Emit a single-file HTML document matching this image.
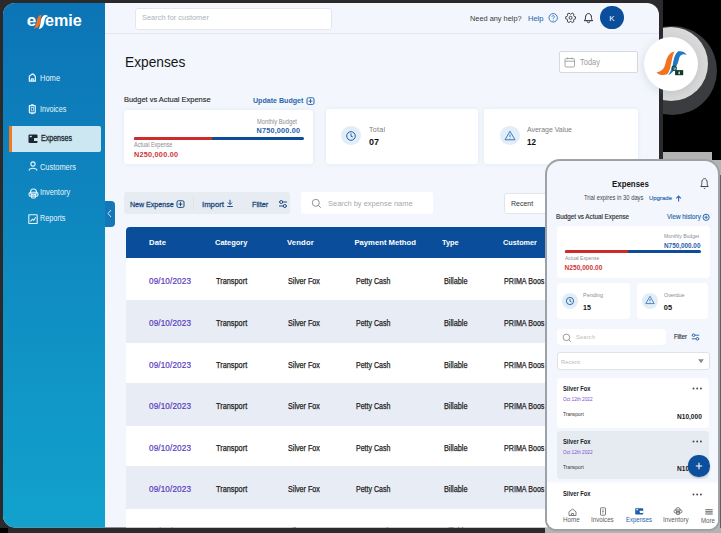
<!DOCTYPE html>
<html><head><meta charset="utf-8"><style>
html,body{margin:0;padding:0;}
body{width:721px;height:533px;overflow:hidden;position:relative;background:#000;font-family:"Liberation Sans",sans-serif;}
div{position:absolute;}
</style></head><body>
<div style="left:627.5px;top:26px;width:89px;height:89px;border-radius:50%;background:#3a3c40;"></div>
<div style="left:634px;top:27px;width:74px;height:74px;border-radius:50%;background:#d9d9d9;"></div>
<div style="left:0px;top:0px;width:663px;height:533px;background:#2a2a2c;"></div>
<div style="left:0px;top:528px;width:8px;height:5px;background:#000;"></div>
<div style="left:0;top:0;width:659px;height:528px;clip-path:inset(3px 0 0.5px 3px round 12px);background:#f3f7fd;overflow:hidden;">
<div style="left:0;top:0;width:105px;height:528px;background:linear-gradient(180deg,#0c74b6 0%,#12a2cd 100%);"></div>
<div style="left:105px;top:33px;width:556px;height:1px;background:#e1e7ef;"></div>
<div style="top:12.41px;left:26.80px;font-size:17.03px;line-height:17.03px;color:#fff;font-weight:bold;letter-spacing:0.000px;white-space:pre;">e</div>
<svg style="position:absolute;left:30px;top:13px;" width="20" height="18" viewBox="0 0 20 18"><path d="M11.5 1.6 C9 2.2 7.5 4.5 6.8 8 C6.2 11.5 5.5 14 3.6 15.5 C7 15.6 9 14 9.9 11 C10.6 8.5 10.6 4 11.5 1.6 Z" fill="#f3721f"/><path d="M14.8 2 C12.5 2.8 11.3 5 10.8 8 C10.3 11.5 10 14 8.6 16.2 C11.8 15.6 13.5 13.5 14.2 10 C14.7 7 14.8 4.8 16.2 3.9 C17 3.4 17.9 3.4 18.6 3.7 C17.5 2.2 16.2 1.6 14.8 2 Z" fill="#fff"/></svg>
<div style="top:12.41px;left:44.80px;font-size:17.03px;line-height:17.03px;color:#fff;font-weight:bold;letter-spacing:0.000px;white-space:pre;transform:scaleX(0.9480);transform-origin:0 0;">emie</div>
<div style="top:75.11px;left:39.70px;font-size:8.14px;line-height:8.14px;color:#e8f4fb;font-weight:normal;letter-spacing:0.000px;white-space:pre;transform:scaleX(0.9256);transform-origin:0 0;">Home</div>
<div style="top:106.00px;left:39.70px;font-size:8.14px;line-height:8.14px;color:#e8f4fb;font-weight:normal;letter-spacing:0.000px;white-space:pre;transform:scaleX(0.8809);transform-origin:0 0;">Invoices</div>
<div style="left:9.4px;top:126.2px;width:91.3px;height:25.4px;background:#cde7f2;border-radius:2px;"></div>
<div style="left:9.4px;top:126.2px;width:2.6px;height:25.4px;background:#f07a1c;"></div>
<div style="top:135.11px;left:40.80px;font-size:8.14px;line-height:8.14px;color:#1b2730;font-weight:normal;letter-spacing:0.000px;white-space:pre;transform:scaleX(0.8700);transform-origin:0 0;-webkit-text-stroke:0.3px #1b2730;">Expenses</div>
<div style="top:163.50px;left:40.40px;font-size:8.14px;line-height:8.14px;color:#e8f4fb;font-weight:normal;letter-spacing:0.000px;white-space:pre;transform:scaleX(0.9148);transform-origin:0 0;">Customers</div>
<div style="top:189.11px;left:39.90px;font-size:8.14px;line-height:8.14px;color:#e8f4fb;font-weight:normal;letter-spacing:0.000px;white-space:pre;transform:scaleX(0.8991);transform-origin:0 0;">Inventory</div>
<div style="top:215.41px;left:40.40px;font-size:8.14px;line-height:8.14px;color:#e8f4fb;font-weight:normal;letter-spacing:0.000px;white-space:pre;transform:scaleX(0.8913);transform-origin:0 0;">Reports</div>
<svg style="position:absolute;left:28px;top:72px;" width="10" height="11" viewBox="0 0 10 11"><path d="M1.35 9.15 V5 Q1.35 4.3 1.9 3.8 L4.35 1.95 Q4.7 1.7 5.05 1.95 L6.8 3.8 Q7.35 4.3 7.35 5 V9.15 Z M3.4 9.15 V6.9 H5.3 V9.15" stroke="#e8f4fb" stroke-width="1.25" fill="none" stroke-linejoin="round"/></svg>
<svg style="position:absolute;left:28px;top:104px;" width="10" height="11" viewBox="0 0 10 11"><rect x="1.35" y="1.7" width="5.9" height="7.1" rx="0.5" stroke="#e8f4fb" stroke-width="1.2" fill="none"/><path d="M3.3 1.6 V0.6 H5.3 V1.6 M3.3 8.9 V9.7 H5.3 V8.9" stroke="#e8f4fb" stroke-width="0.9" fill="none"/><rect x="3.2" y="3.6" width="2.2" height="3.3" stroke="#e8f4fb" stroke-width="0.7" fill="none"/></svg>
<svg style="position:absolute;left:27.5px;top:134px;" width="10" height="10" viewBox="0 0 10 10"><rect x="0.5" y="0.5" width="9" height="8.6" rx="1" fill="#1b2730"/><rect x="6" y="4" width="4" height="3" rx="0.6" fill="#cde7f2"/><rect x="1.8" y="1.8" width="2" height="1.4" fill="#cde7f2"/></svg>
<svg style="position:absolute;left:28px;top:161px;" width="10" height="10" viewBox="0 0 10 10"><circle cx="5" cy="3" r="2.1" stroke="#e8f4fb" stroke-width="1.1" fill="none"/><path d="M1 9.6 C1.5 6.5 8.5 6.5 9 9.6" stroke="#e8f4fb" stroke-width="1.1" fill="none"/></svg>
<svg style="position:absolute;left:27.5px;top:187.5px;" width="11" height="11" viewBox="0 0 11 11"><circle cx="5.5" cy="4" r="3" stroke="#e8f4fb" stroke-width="1.1" fill="none"/><rect x="1" y="4.2" width="9" height="4" rx="2" stroke="#e8f4fb" stroke-width="1.1" fill="none"/><rect x="3.6" y="6" width="3.8" height="4" rx="0.8" stroke="#e8f4fb" stroke-width="1.1" fill="none"/></svg>
<svg style="position:absolute;left:28px;top:214px;" width="10" height="10" viewBox="0 0 10 10"><rect x="0.8" y="0.8" width="8.4" height="8.8" rx="0.6" stroke="#e8f4fb" stroke-width="1.1" fill="none"/><path d="M2.5 7.5 L4.3 5.2 L5.8 6.3 L7.8 3.2" stroke="#e8f4fb" stroke-width="1.1" fill="none"/></svg>
<div style="left:105px;top:200.5px;width:9.5px;height:26.5px;background:#1576b8;border-radius:0 4px 4px 0;"></div>
<svg style="position:absolute;left:105px;top:208px;" width="9" height="11" viewBox="0 0 9 11"><path d="M6 2 L3 5.5 L6 9" stroke="#cfe6f6" stroke-width="1" fill="none"/></svg>
<div style="left:135px;top:7.5px;width:197px;height:22px;background:#fff;border:1px solid #e3e7ec;border-radius:3px;box-sizing:border-box;"></div>
<div style="top:14.31px;left:141.70px;font-size:7.70px;line-height:7.70px;color:#aeb3b8;font-weight:normal;letter-spacing:0.000px;white-space:pre;transform:scaleX(0.9661);transform-origin:0 0;">Search for customer</div>
<div style="top:14.51px;left:470.00px;font-size:7.99px;line-height:7.99px;color:#3a3a3a;font-weight:normal;letter-spacing:0.000px;white-space:pre;transform:scaleX(0.9232);transform-origin:0 0;">Need any help?</div>
<div style="top:14.51px;left:527.50px;font-size:7.99px;line-height:7.99px;color:#2e6db4;font-weight:normal;letter-spacing:0.000px;white-space:pre;transform:scaleX(0.9426);transform-origin:0 0;-webkit-text-stroke:0.1px #2e6db4;">Help</div>
<svg style="position:absolute;left:547px;top:12px;" width="13" height="13" viewBox="0 0 13 13"><circle cx="6.2" cy="5.8" r="4.2" stroke="#3b7bc0" stroke-width="1" fill="none"/><path d="M4.9 4.7 C4.9 3.3 7.5 3.3 7.5 4.7 C7.5 5.7 6.2 5.7 6.2 6.7" stroke="#3b7bc0" stroke-width="0.9" fill="none"/><circle cx="6.2" cy="8" r="0.5" fill="#3b7bc0"/></svg>
<svg style="position:absolute;left:564px;top:12px;" width="13" height="13" viewBox="0 0 13 13"><path d="M9.98 4.29 L11.50 4.81 L11.50 6.79 L9.98 7.31 L9.60 7.97 L9.91 9.55 L8.19 10.54 L6.98 9.48 L6.22 9.48 L5.01 10.54 L3.29 9.55 L3.60 7.97 L3.22 7.31 L1.70 6.79 L1.70 4.81 L3.22 4.29 L3.60 3.63 L3.29 2.05 L5.01 1.06 L6.22 2.12 L6.98 2.12 L8.19 1.06 L9.91 2.05 L9.60 3.63 Z" stroke="#333" stroke-width="0.9" fill="none" stroke-linejoin="round"/><circle cx="6.6" cy="5.8" r="1.5" stroke="#333" stroke-width="0.9" fill="none"/></svg>
<svg style="position:absolute;left:582px;top:12px;" width="13" height="13" viewBox="0 0 13 13"><path d="M2.3 8.7 C3.2 8 3.5 7 3.5 5.5 C3.5 3.2 4.8 1.5 6.5 1.5 C8.2 1.5 9.5 3.2 9.5 5.5 C9.5 7 9.8 8 10.7 8.7 Z" stroke="#222" stroke-width="1" fill="none" stroke-linejoin="round"/><path d="M5.2 9.4 A1.3 1.3 0 0 0 7.8 9.4" stroke="#222" stroke-width="0.9" fill="none"/></svg>
<div style="left:600.3px;top:6.1px;width:23.4px;height:23.4px;border-radius:50%;background:#0b4f9c;"></div>
<div style="top:15.01px;left:609.33px;font-size:7.99px;line-height:7.99px;color:#fff;font-weight:normal;letter-spacing:0.000px;white-space:pre;">K</div>
<div style="top:55.01px;left:124.80px;font-size:14.53px;line-height:14.53px;color:#161616;font-weight:normal;letter-spacing:0.000px;white-space:pre;transform:scaleX(0.9462);transform-origin:0 0;">Expenses</div>
<div style="left:559.3px;top:51.4px;width:78.5px;height:22px;background:#fff;border:1px solid #d6dade;border-radius:2px;box-sizing:border-box;"></div>
<svg style="position:absolute;left:564px;top:57px;" width="12" height="11" viewBox="0 0 12 11"><rect x="1" y="1.5" width="9.5" height="8.5" rx="1.2" stroke="#9a9ea3" stroke-width="0.9" fill="none"/><path d="M1 4.2 H10.5 M3.5 0.5 V2.3 M8 0.5 V2.3" stroke="#9a9ea3" stroke-width="0.9"/></svg>
<div style="top:58.31px;left:580.00px;font-size:8.43px;line-height:8.43px;color:#9a9ea3;font-weight:normal;letter-spacing:0.000px;white-space:pre;transform:scaleX(0.8892);transform-origin:0 0;">Today</div>
<div style="top:96.10px;left:124.00px;font-size:7.99px;line-height:7.99px;color:#2c2c2c;font-weight:normal;letter-spacing:0.000px;white-space:pre;transform:scaleX(0.9334);transform-origin:0 0;-webkit-text-stroke:0.15px #2c2c2c;">Budget vs Actual Expense</div>
<div style="top:96.81px;left:253.30px;font-size:7.27px;line-height:7.27px;color:#2a68aa;font-weight:bold;letter-spacing:0.000px;white-space:pre;transform:scaleX(0.9753);transform-origin:0 0;">Update Budget</div>
<svg style="position:absolute;left:305.5px;top:96.5px;" width="9" height="8" viewBox="0 0 9 8"><rect x="1" y="0.8" width="7" height="6.6" rx="1.3" stroke="#2a68aa" stroke-width="1" fill="none"/><path d="M4.5 2.2 V6 M2.6 4.1 H6.4" stroke="#2a68aa" stroke-width="1"/></svg>
<div style="left:124.2px;top:110px;width:189.3px;height:53.8px;background:#fff;border-radius:3px;box-shadow:0 0 4px rgba(190,205,220,0.35);"></div>
<div style="top:118.90px;left:256.60px;font-size:6.54px;line-height:6.54px;color:#8a8d91;font-weight:normal;letter-spacing:0.000px;white-space:pre;transform:scaleX(0.8801);transform-origin:0 0;">Monthly Budget</div>
<div style="top:127.31px;left:256.60px;font-size:7.27px;line-height:7.27px;color:#1f5ea8;font-weight:bold;letter-spacing:0.178px;white-space:pre;">N750,000.00</div>
<div style="left:134px;top:136.8px;width:170.2px;height:3px;background:#0f4c97;border-radius:2px;"></div>
<div style="left:134px;top:136.8px;width:78.4px;height:3px;background:#cf2b2b;border-radius:2px 0 0 2px;"></div>
<div style="top:142.01px;left:134.00px;font-size:6.54px;line-height:6.54px;color:#8a8d91;font-weight:normal;letter-spacing:0.000px;white-space:pre;transform:scaleX(0.8471);transform-origin:0 0;">Actual Expense</div>
<div style="top:150.61px;left:134.00px;font-size:7.27px;line-height:7.27px;color:#d03434;font-weight:bold;letter-spacing:0.238px;white-space:pre;">N250,000.00</div>
<div style="left:325.8px;top:109px;width:152.2px;height:54.8px;background:#fff;border-radius:3px;box-shadow:0 0 4px rgba(190,205,220,0.35);"></div>
<div style="left:341.3px;top:126.1px;width:19.4px;height:19.4px;border-radius:50%;background:#e2eef7;"></div>
<svg style="position:absolute;left:345px;top:130px;" width="12" height="12" viewBox="0 0 12 12"><circle cx="6" cy="6" r="4.3" stroke="#1f5ea8" stroke-width="1" fill="none"/><path d="M6 3.5 V6.2 L7.8 7" stroke="#1f5ea8" stroke-width="1" fill="none"/></svg>
<div style="top:127.21px;left:369.00px;font-size:7.12px;line-height:7.12px;color:#7a7d82;font-weight:normal;letter-spacing:0.240px;white-space:pre;">Total</div>
<div style="top:138.41px;left:369.00px;font-size:9.30px;line-height:9.30px;color:#111;font-weight:bold;letter-spacing:0.000px;white-space:pre;transform:scaleX(0.9667);transform-origin:0 0;">07</div>
<div style="left:483.6px;top:109px;width:154.9px;height:54.8px;background:#fff;border-radius:3px;box-shadow:0 0 4px rgba(190,205,220,0.35);"></div>
<div style="left:500.3px;top:126.1px;width:19.4px;height:19.4px;border-radius:50%;background:#e2eef7;"></div>
<svg style="position:absolute;left:504px;top:130px;" width="12" height="11" viewBox="0 0 12 11"><path d="M6 1.3 L11 9.8 H1 Z" stroke="#2e6db4" stroke-width="0.9" fill="none" stroke-linejoin="round"/><path d="M6 4.5 V7 M6 8 V8.6" stroke="#2e6db4" stroke-width="0.9"/></svg>
<div style="top:127.21px;left:526.60px;font-size:7.12px;line-height:7.12px;color:#7a7d82;font-weight:normal;letter-spacing:0.000px;white-space:pre;transform:scaleX(0.9769);transform-origin:0 0;">Average Value</div>
<div style="top:138.41px;left:527.00px;font-size:9.30px;line-height:9.30px;color:#111;font-weight:bold;letter-spacing:0.000px;white-space:pre;transform:scaleX(0.8701);transform-origin:0 0;">12</div>
<div style="left:123.8px;top:192px;width:166.7px;height:21.8px;background:#e7ecf2;border-radius:3px;"></div>
<div style="left:193.2px;top:196px;width:1px;height:14px;background:#dfe4ea;"></div>
<div style="top:200.51px;left:129.80px;font-size:7.99px;line-height:7.99px;color:#1d4a7e;font-weight:normal;letter-spacing:0.000px;white-space:pre;transform:scaleX(0.8860);transform-origin:0 0;-webkit-text-stroke:0.3px #1d4a7e;">New Expense</div>
<svg style="position:absolute;left:176px;top:200px;" width="9" height="8" viewBox="0 0 9 8"><rect x="1" y="0.8" width="7" height="6.6" rx="1.3" stroke="#1d4a7e" stroke-width="1" fill="none"/><path d="M4.5 2.2 V6 M2.6 4.1 H6.4" stroke="#1d4a7e" stroke-width="1"/></svg>
<div style="top:200.51px;left:201.90px;font-size:7.99px;line-height:7.99px;color:#1d4a7e;font-weight:normal;letter-spacing:0.000px;white-space:pre;transform:scaleX(0.9711);transform-origin:0 0;-webkit-text-stroke:0.3px #1d4a7e;">Import</div>
<svg style="position:absolute;left:226px;top:199px;" width="8" height="9" viewBox="0 0 8 9"><path d="M4 0.8 V5.5 M2 3.6 L4 5.6 L6 3.6 M1.2 7.5 H6.8" stroke="#1d4a7e" stroke-width="1" fill="none"/></svg>
<div style="top:200.51px;left:251.80px;font-size:7.99px;line-height:7.99px;color:#1d4a7e;font-weight:normal;letter-spacing:0.000px;white-space:pre;transform:scaleX(0.9064);transform-origin:0 0;-webkit-text-stroke:0.3px #1d4a7e;">Filter</div>
<svg style="position:absolute;left:277.5px;top:198.5px;" width="10" height="10" viewBox="0 0 10 10"><path d="M1 3 H9 M1 7 H9" stroke="#1d4a7e" stroke-width="1"/><circle cx="3.2" cy="3" r="1.5" fill="#e7ecf2" stroke="#1d4a7e" stroke-width="1"/><circle cx="6.8" cy="7" r="1.5" fill="#e7ecf2" stroke="#1d4a7e" stroke-width="1"/></svg>
<div style="left:301.2px;top:192.3px;width:132.3px;height:21.9px;background:#fff;border-radius:3px;"></div>
<svg style="position:absolute;left:310.5px;top:197.5px;" width="11" height="11" viewBox="0 0 11 11"><circle cx="4.8" cy="4.8" r="3.5" stroke="#8d9196" stroke-width="1" fill="none"/><path d="M7.3 7.3 L9.8 9.8" stroke="#8d9196" stroke-width="1"/></svg>
<div style="top:200.21px;left:327.90px;font-size:7.70px;line-height:7.70px;color:#a4a8ad;font-weight:normal;letter-spacing:0.000px;white-space:pre;transform:scaleX(0.9707);transform-origin:0 0;">Search by expense name</div>
<div style="left:503.5px;top:192.8px;width:60px;height:21.4px;background:#fff;border:1px solid #e1e5ea;border-radius:3px;box-sizing:border-box;"></div>
<div style="top:199.91px;left:511.30px;font-size:7.99px;line-height:7.99px;color:#333;font-weight:normal;letter-spacing:0.000px;white-space:pre;transform:scaleX(0.8766);transform-origin:0 0;">Recent</div>
<div style="left:126.1px;top:227px;width:500px;height:30.5px;background:#0a4e9b;border-radius:4px 4px 0 0;"></div>
<div style="top:239.01px;left:149.00px;font-size:7.70px;line-height:7.70px;color:#ffffff;font-weight:bold;letter-spacing:0.100px;white-space:pre;">Date</div>
<div style="top:239.01px;left:215.00px;font-size:7.70px;line-height:7.70px;color:#ffffff;font-weight:bold;letter-spacing:0.000px;white-space:pre;transform:scaleX(0.9732);transform-origin:0 0;">Category</div>
<div style="top:239.01px;left:287.00px;font-size:7.70px;line-height:7.70px;color:#ffffff;font-weight:bold;letter-spacing:0.127px;white-space:pre;">Vendor</div>
<div style="top:239.01px;left:354.40px;font-size:7.70px;line-height:7.70px;color:#ffffff;font-weight:bold;letter-spacing:0.005px;white-space:pre;">Payment Method</div>
<div style="top:239.01px;left:442.00px;font-size:7.70px;line-height:7.70px;color:#ffffff;font-weight:bold;letter-spacing:0.000px;white-space:pre;transform:scaleX(0.9592);transform-origin:0 0;">Type</div>
<div style="top:239.01px;left:503.00px;font-size:7.70px;line-height:7.70px;color:#ffffff;font-weight:bold;letter-spacing:0.000px;white-space:pre;transform:scaleX(0.9455);transform-origin:0 0;">Customer</div>
<div style="left:126.1px;top:257.5px;width:500px;height:42.5px;background:#ffffff;"></div>
<div style="top:278.41px;left:149.00px;font-size:8.14px;line-height:8.14px;color:#5a3cc0;font-weight:normal;letter-spacing:0.140px;white-space:pre;-webkit-text-stroke:0.2px #5a3cc0;">09/10/2023</div>
<div style="top:278.41px;left:216.25px;font-size:8.28px;line-height:8.28px;color:#1e1e1e;font-weight:normal;letter-spacing:0.000px;white-space:pre;transform:scaleX(0.8892);transform-origin:0 0;-webkit-text-stroke:0.25px #1e1e1e;">Transport</div>
<div style="top:278.41px;left:287.50px;font-size:8.28px;line-height:8.28px;color:#1e1e1e;font-weight:normal;letter-spacing:0.000px;white-space:pre;transform:scaleX(0.8689);transform-origin:0 0;-webkit-text-stroke:0.25px #1e1e1e;">Silver Fox</div>
<div style="top:278.41px;left:355.50px;font-size:8.28px;line-height:8.28px;color:#1e1e1e;font-weight:normal;letter-spacing:0.000px;white-space:pre;transform:scaleX(0.8514);transform-origin:0 0;-webkit-text-stroke:0.25px #1e1e1e;">Petty Cash</div>
<div style="top:278.41px;left:443.80px;font-size:8.28px;line-height:8.28px;color:#1e1e1e;font-weight:normal;letter-spacing:0.000px;white-space:pre;transform:scaleX(0.8835);transform-origin:0 0;-webkit-text-stroke:0.25px #1e1e1e;">Billable</div>
<div style="top:278.41px;left:504.40px;font-size:8.28px;line-height:8.28px;color:#1e1e1e;font-weight:normal;letter-spacing:0.000px;white-space:pre;transform:scaleX(0.8623);transform-origin:0 0;-webkit-text-stroke:0.25px #1e1e1e;">PRIMA Boos</div>
<div style="left:126.1px;top:300px;width:500px;height:42.5px;background:#e8ecf4;"></div>
<div style="top:319.96px;left:149.00px;font-size:8.14px;line-height:8.14px;color:#5a3cc0;font-weight:normal;letter-spacing:0.140px;white-space:pre;-webkit-text-stroke:0.2px #5a3cc0;">09/10/2023</div>
<div style="top:319.95px;left:216.25px;font-size:8.28px;line-height:8.28px;color:#1e1e1e;font-weight:normal;letter-spacing:0.000px;white-space:pre;transform:scaleX(0.8892);transform-origin:0 0;-webkit-text-stroke:0.25px #1e1e1e;">Transport</div>
<div style="top:319.95px;left:287.50px;font-size:8.28px;line-height:8.28px;color:#1e1e1e;font-weight:normal;letter-spacing:0.000px;white-space:pre;transform:scaleX(0.8689);transform-origin:0 0;-webkit-text-stroke:0.25px #1e1e1e;">Silver Fox</div>
<div style="top:319.95px;left:355.50px;font-size:8.28px;line-height:8.28px;color:#1e1e1e;font-weight:normal;letter-spacing:0.000px;white-space:pre;transform:scaleX(0.8514);transform-origin:0 0;-webkit-text-stroke:0.25px #1e1e1e;">Petty Cash</div>
<div style="top:319.95px;left:443.80px;font-size:8.28px;line-height:8.28px;color:#1e1e1e;font-weight:normal;letter-spacing:0.000px;white-space:pre;transform:scaleX(0.8835);transform-origin:0 0;-webkit-text-stroke:0.25px #1e1e1e;">Billable</div>
<div style="top:319.95px;left:504.40px;font-size:8.28px;line-height:8.28px;color:#1e1e1e;font-weight:normal;letter-spacing:0.000px;white-space:pre;transform:scaleX(0.8623);transform-origin:0 0;-webkit-text-stroke:0.25px #1e1e1e;">PRIMA Boos</div>
<div style="left:126.1px;top:342.5px;width:500px;height:40.5px;background:#ffffff;"></div>
<div style="top:361.50px;left:149.00px;font-size:8.14px;line-height:8.14px;color:#5a3cc0;font-weight:normal;letter-spacing:0.140px;white-space:pre;-webkit-text-stroke:0.2px #5a3cc0;">09/10/2023</div>
<div style="top:361.50px;left:216.25px;font-size:8.28px;line-height:8.28px;color:#1e1e1e;font-weight:normal;letter-spacing:0.000px;white-space:pre;transform:scaleX(0.8892);transform-origin:0 0;-webkit-text-stroke:0.25px #1e1e1e;">Transport</div>
<div style="top:361.50px;left:287.50px;font-size:8.28px;line-height:8.28px;color:#1e1e1e;font-weight:normal;letter-spacing:0.000px;white-space:pre;transform:scaleX(0.8689);transform-origin:0 0;-webkit-text-stroke:0.25px #1e1e1e;">Silver Fox</div>
<div style="top:361.50px;left:355.50px;font-size:8.28px;line-height:8.28px;color:#1e1e1e;font-weight:normal;letter-spacing:0.000px;white-space:pre;transform:scaleX(0.8514);transform-origin:0 0;-webkit-text-stroke:0.25px #1e1e1e;">Petty Cash</div>
<div style="top:361.50px;left:443.80px;font-size:8.28px;line-height:8.28px;color:#1e1e1e;font-weight:normal;letter-spacing:0.000px;white-space:pre;transform:scaleX(0.8835);transform-origin:0 0;-webkit-text-stroke:0.25px #1e1e1e;">Billable</div>
<div style="top:361.50px;left:504.40px;font-size:8.28px;line-height:8.28px;color:#1e1e1e;font-weight:normal;letter-spacing:0.000px;white-space:pre;transform:scaleX(0.8623);transform-origin:0 0;-webkit-text-stroke:0.25px #1e1e1e;">PRIMA Boos</div>
<div style="left:126.1px;top:383px;width:500px;height:42.5px;background:#e8ecf4;"></div>
<div style="top:403.05px;left:149.00px;font-size:8.14px;line-height:8.14px;color:#5a3cc0;font-weight:normal;letter-spacing:0.140px;white-space:pre;-webkit-text-stroke:0.2px #5a3cc0;">09/10/2023</div>
<div style="top:403.06px;left:216.25px;font-size:8.28px;line-height:8.28px;color:#1e1e1e;font-weight:normal;letter-spacing:0.000px;white-space:pre;transform:scaleX(0.8892);transform-origin:0 0;-webkit-text-stroke:0.25px #1e1e1e;">Transport</div>
<div style="top:403.06px;left:287.50px;font-size:8.28px;line-height:8.28px;color:#1e1e1e;font-weight:normal;letter-spacing:0.000px;white-space:pre;transform:scaleX(0.8689);transform-origin:0 0;-webkit-text-stroke:0.25px #1e1e1e;">Silver Fox</div>
<div style="top:403.06px;left:355.50px;font-size:8.28px;line-height:8.28px;color:#1e1e1e;font-weight:normal;letter-spacing:0.000px;white-space:pre;transform:scaleX(0.8514);transform-origin:0 0;-webkit-text-stroke:0.25px #1e1e1e;">Petty Cash</div>
<div style="top:403.06px;left:443.80px;font-size:8.28px;line-height:8.28px;color:#1e1e1e;font-weight:normal;letter-spacing:0.000px;white-space:pre;transform:scaleX(0.8835);transform-origin:0 0;-webkit-text-stroke:0.25px #1e1e1e;">Billable</div>
<div style="top:403.06px;left:504.40px;font-size:8.28px;line-height:8.28px;color:#1e1e1e;font-weight:normal;letter-spacing:0.000px;white-space:pre;transform:scaleX(0.8623);transform-origin:0 0;-webkit-text-stroke:0.25px #1e1e1e;">PRIMA Boos</div>
<div style="left:126.1px;top:425.5px;width:500px;height:40.5px;background:#ffffff;"></div>
<div style="top:444.61px;left:149.00px;font-size:8.14px;line-height:8.14px;color:#5a3cc0;font-weight:normal;letter-spacing:0.140px;white-space:pre;-webkit-text-stroke:0.2px #5a3cc0;">09/10/2023</div>
<div style="top:444.61px;left:216.25px;font-size:8.28px;line-height:8.28px;color:#1e1e1e;font-weight:normal;letter-spacing:0.000px;white-space:pre;transform:scaleX(0.8892);transform-origin:0 0;-webkit-text-stroke:0.25px #1e1e1e;">Transport</div>
<div style="top:444.61px;left:287.50px;font-size:8.28px;line-height:8.28px;color:#1e1e1e;font-weight:normal;letter-spacing:0.000px;white-space:pre;transform:scaleX(0.8689);transform-origin:0 0;-webkit-text-stroke:0.25px #1e1e1e;">Silver Fox</div>
<div style="top:444.61px;left:355.50px;font-size:8.28px;line-height:8.28px;color:#1e1e1e;font-weight:normal;letter-spacing:0.000px;white-space:pre;transform:scaleX(0.8514);transform-origin:0 0;-webkit-text-stroke:0.25px #1e1e1e;">Petty Cash</div>
<div style="top:444.61px;left:443.80px;font-size:8.28px;line-height:8.28px;color:#1e1e1e;font-weight:normal;letter-spacing:0.000px;white-space:pre;transform:scaleX(0.8835);transform-origin:0 0;-webkit-text-stroke:0.25px #1e1e1e;">Billable</div>
<div style="top:444.61px;left:504.40px;font-size:8.28px;line-height:8.28px;color:#1e1e1e;font-weight:normal;letter-spacing:0.000px;white-space:pre;transform:scaleX(0.8623);transform-origin:0 0;-webkit-text-stroke:0.25px #1e1e1e;">PRIMA Boos</div>
<div style="left:126.1px;top:466px;width:500px;height:42.5px;background:#e8ecf4;"></div>
<div style="top:486.16px;left:149.00px;font-size:8.14px;line-height:8.14px;color:#5a3cc0;font-weight:normal;letter-spacing:0.140px;white-space:pre;-webkit-text-stroke:0.2px #5a3cc0;">09/10/2023</div>
<div style="top:486.16px;left:216.25px;font-size:8.28px;line-height:8.28px;color:#1e1e1e;font-weight:normal;letter-spacing:0.000px;white-space:pre;transform:scaleX(0.8892);transform-origin:0 0;-webkit-text-stroke:0.25px #1e1e1e;">Transport</div>
<div style="top:486.16px;left:287.50px;font-size:8.28px;line-height:8.28px;color:#1e1e1e;font-weight:normal;letter-spacing:0.000px;white-space:pre;transform:scaleX(0.8689);transform-origin:0 0;-webkit-text-stroke:0.25px #1e1e1e;">Silver Fox</div>
<div style="top:486.16px;left:355.50px;font-size:8.28px;line-height:8.28px;color:#1e1e1e;font-weight:normal;letter-spacing:0.000px;white-space:pre;transform:scaleX(0.8514);transform-origin:0 0;-webkit-text-stroke:0.25px #1e1e1e;">Petty Cash</div>
<div style="top:486.16px;left:443.80px;font-size:8.28px;line-height:8.28px;color:#1e1e1e;font-weight:normal;letter-spacing:0.000px;white-space:pre;transform:scaleX(0.8835);transform-origin:0 0;-webkit-text-stroke:0.25px #1e1e1e;">Billable</div>
<div style="top:486.16px;left:504.40px;font-size:8.28px;line-height:8.28px;color:#1e1e1e;font-weight:normal;letter-spacing:0.000px;white-space:pre;transform:scaleX(0.8623);transform-origin:0 0;-webkit-text-stroke:0.25px #1e1e1e;">PRIMA Boos</div>
<div style="left:126.1px;top:508.5px;width:500px;height:21.5px;background:#ffffff;"></div>
<div style="top:527.71px;left:149.00px;font-size:8.14px;line-height:8.14px;color:#5a3cc0;font-weight:normal;letter-spacing:0.140px;white-space:pre;-webkit-text-stroke:0.2px #5a3cc0;">09/10/2023</div>
<div style="top:527.70px;left:216.25px;font-size:8.28px;line-height:8.28px;color:#1e1e1e;font-weight:normal;letter-spacing:0.000px;white-space:pre;transform:scaleX(0.8892);transform-origin:0 0;-webkit-text-stroke:0.25px #1e1e1e;">Transport</div>
<div style="top:527.70px;left:287.50px;font-size:8.28px;line-height:8.28px;color:#1e1e1e;font-weight:normal;letter-spacing:0.000px;white-space:pre;transform:scaleX(0.8689);transform-origin:0 0;-webkit-text-stroke:0.25px #1e1e1e;">Silver Fox</div>
<div style="top:527.70px;left:355.50px;font-size:8.28px;line-height:8.28px;color:#1e1e1e;font-weight:normal;letter-spacing:0.000px;white-space:pre;transform:scaleX(0.8514);transform-origin:0 0;-webkit-text-stroke:0.25px #1e1e1e;">Petty Cash</div>
<div style="top:527.70px;left:443.80px;font-size:8.28px;line-height:8.28px;color:#1e1e1e;font-weight:normal;letter-spacing:0.000px;white-space:pre;transform:scaleX(0.8835);transform-origin:0 0;-webkit-text-stroke:0.25px #1e1e1e;">Billable</div>
<div style="top:527.70px;left:504.40px;font-size:8.28px;line-height:8.28px;color:#1e1e1e;font-weight:normal;letter-spacing:0.000px;white-space:pre;transform:scaleX(0.8623);transform-origin:0 0;-webkit-text-stroke:0.25px #1e1e1e;">PRIMA Boos</div>
</div>
<div style="left:644px;top:37px;width:54px;height:54px;border-radius:50%;background:#fff;box-shadow:0 2px 10px rgba(120,130,140,0.25);"></div>
<svg style="position:absolute;left:650px;top:45px;" width="45" height="35" viewBox="0 0 45 35"><path d="M24.5 6.5 C19.5 7.5 17 12 15.8 17 C14.8 21.5 14 25.5 6.5 27.5 C9.5 30.5 14 30.5 17 29.3 C19.5 27.5 20.5 21.5 21.5 17 C22.3 13 23 9 24.5 6.5 Z" fill="#f3721f"/><path d="M27.8 6.5 C32 5.5 35 7.5 36.8 9.8 C33 8.5 30.2 9.5 29.3 12.8 C28.3 17 27.5 20 25.1 23 C23.5 26.5 21 29 18.2 30.2 C20.5 27 22 23.5 22.7 20 C23.5 15.5 24.3 10 27.8 6.5 Z" fill="#1f78c1"/><circle cx="24.2" cy="23.3" r="2.1" stroke="#164a3c" stroke-width="1.2" fill="none"/><rect x="25.1" y="25.1" width="8.1" height="5.1" fill="#12382a"/><rect x="28.5" y="26.6" width="1.3" height="2.6" fill="#dfe"/></svg>
<div style="left:663px;top:152px;width:48.6px;height:9px;background:#b3b3b3;"></div>
<div style="left:711.6px;top:160px;width:9.4px;height:373px;background:#b3b3b3;"></div>
<div style="left:719.8px;top:175px;width:1.2px;height:358px;background:#5d6063;"></div>
<div style="left:545px;top:528px;width:176px;height:5px;background:#b3b3b3;"></div>
<div style="left:545px;top:159px;width:174.8px;height:372px;border:2px solid #9ea1a5;border-radius:15px 15px 11px 11px;box-sizing:border-box;background:#f3f7fd;overflow:hidden;">
</div>
<div style="top:179.70px;left:611.80px;font-size:9.30px;line-height:9.30px;color:#161616;font-weight:bold;letter-spacing:0.000px;white-space:pre;transform:scaleX(0.8473);transform-origin:0 0;">Expenses</div>
<svg style="position:absolute;left:699px;top:177px;" width="11" height="13" viewBox="0 0 11 13"><path d="M1.8 9.5 C2.8 8.5 2.8 7.2 2.8 5.6 C2.8 3.3 4 1.6 5.5 1.6 C7 1.6 8.2 3.3 8.2 5.6 C8.2 7.2 8.2 8.5 9.2 9.5 Z" stroke="#333" stroke-width="0.9" fill="none" stroke-linejoin="round"/><path d="M4.6 10.9 C4.9 11.6 6.1 11.6 6.4 10.9" stroke="#333" stroke-width="0.8" fill="none"/></svg>
<div style="top:195.41px;left:584.20px;font-size:6.69px;line-height:6.69px;color:#444;font-weight:normal;letter-spacing:0.000px;white-space:pre;transform:scaleX(0.8672);transform-origin:0 0;">Trial expires in 30 days</div>
<div style="top:195.40px;left:649.00px;font-size:6.25px;line-height:6.25px;color:#2a68aa;font-weight:normal;letter-spacing:0.000px;white-space:pre;transform:scaleX(0.9593);transform-origin:0 0;-webkit-text-stroke:0.15px #2a68aa;">Upgrade</div>
<svg style="position:absolute;left:674.5px;top:195px;" width="8" height="8" viewBox="0 0 8 8"><path d="M3.6 6.6 V1.2 M1.3 3.4 L3.6 1.1 L5.9 3.4" stroke="#2a68aa" stroke-width="1.1" fill="none"/></svg>
<div style="top:214.21px;left:555.90px;font-size:6.83px;line-height:6.83px;color:#2c2c2c;font-weight:normal;letter-spacing:0.000px;white-space:pre;transform:scaleX(0.9210);transform-origin:0 0;-webkit-text-stroke:0.15px #2c2c2c;">Budget vs Actual Expense</div>
<div style="top:214.21px;left:667.20px;font-size:6.83px;line-height:6.83px;color:#2a68aa;font-weight:normal;letter-spacing:0.000px;white-space:pre;transform:scaleX(0.9209);transform-origin:0 0;-webkit-text-stroke:0.15px #2a68aa;">View history</div>
<svg style="position:absolute;left:701px;top:212px;" width="10" height="10" viewBox="0 0 10 10"><circle cx="5.1" cy="5.3" r="3.1" stroke="#2a68aa" stroke-width="1" fill="none"/><path d="M5.1 3.6 V7 M3.4 5.3 H6.8" stroke="#2a68aa" stroke-width="0.9"/></svg>
<div style="left:557px;top:225.9px;width:153.4px;height:51.9px;background:#fff;border-radius:4px;"></div>
<div style="top:234.00px;left:664.00px;font-size:5.81px;line-height:5.81px;color:#8a8d91;font-weight:normal;letter-spacing:0.000px;white-space:pre;transform:scaleX(0.8737);transform-origin:0 0;">Monthly Budget</div>
<div style="top:242.51px;left:664.00px;font-size:6.54px;line-height:6.54px;color:#1f5ea8;font-weight:bold;letter-spacing:0.000px;white-space:pre;transform:scaleX(0.9744);transform-origin:0 0;">N750,000.00</div>
<div style="left:564.6px;top:250px;width:136.4px;height:3px;background:#0f4c97;border-radius:2px;"></div>
<div style="left:564.6px;top:250px;width:63.2px;height:3px;background:#cf2b2b;border-radius:2px 0 0 2px;"></div>
<div style="top:255.71px;left:564.60px;font-size:5.81px;line-height:5.81px;color:#8a8d91;font-weight:normal;letter-spacing:0.000px;white-space:pre;transform:scaleX(0.8515);transform-origin:0 0;">Actual Expense</div>
<div style="top:265.01px;left:564.60px;font-size:6.54px;line-height:6.54px;color:#d03434;font-weight:bold;letter-spacing:0.034px;white-space:pre;">N250,000.00</div>
<div style="left:556.7px;top:282.8px;width:73.8px;height:35.8px;background:#fff;border-radius:4px;"></div>
<div style="left:562px;top:292.6px;width:16px;height:16px;border-radius:50%;background:#e2eef7;"></div>
<svg style="position:absolute;left:565px;top:295.6px;" width="10" height="10" viewBox="0 0 10 10"><circle cx="5" cy="5" r="3.6" stroke="#1f5ea8" stroke-width="0.9" fill="none"/><path d="M5 3 V5.2 L6.5 5.9" stroke="#1f5ea8" stroke-width="0.9" fill="none"/></svg>
<div style="top:293.20px;left:583.00px;font-size:5.96px;line-height:5.96px;color:#8a8d91;font-weight:normal;letter-spacing:0.000px;white-space:pre;transform:scaleX(0.9145);transform-origin:0 0;">Pending</div>
<div style="top:303.81px;left:583.00px;font-size:7.41px;line-height:7.41px;color:#111;font-weight:bold;letter-spacing:0.000px;white-space:pre;transform:scaleX(0.9463);transform-origin:0 0;">15</div>
<div style="left:636.8px;top:282.8px;width:71.6px;height:35.8px;background:#fff;border-radius:4px;"></div>
<div style="left:642.2px;top:292.6px;width:16px;height:16px;border-radius:50%;background:#e2eef7;"></div>
<svg style="position:absolute;left:645.2px;top:295.4px;" width="10" height="10" viewBox="0 0 10 10"><path d="M5 1.3 L9.2 8.6 H0.8 Z" stroke="#2e6db4" stroke-width="0.8" fill="none" stroke-linejoin="round"/><path d="M5 4 V6.2 M5 7 V7.5" stroke="#2e6db4" stroke-width="0.8"/></svg>
<div style="top:293.20px;left:663.70px;font-size:5.96px;line-height:5.96px;color:#8a8d91;font-weight:normal;letter-spacing:0.000px;white-space:pre;transform:scaleX(0.8970);transform-origin:0 0;">Overdue</div>
<div style="top:303.81px;left:663.70px;font-size:7.41px;line-height:7.41px;color:#111;font-weight:bold;letter-spacing:0.257px;white-space:pre;">05</div>
<div style="left:556.8px;top:328.7px;width:109.2px;height:16.6px;background:#fff;border-radius:4px;"></div>
<svg style="position:absolute;left:562px;top:332.5px;" width="10" height="10" viewBox="0 0 10 10"><circle cx="4.4" cy="4.4" r="3.3" stroke="#8d9196" stroke-width="0.9" fill="none"/><path d="M6.8 6.8 L9 9" stroke="#8d9196" stroke-width="0.9"/></svg>
<div style="top:335.12px;left:576.00px;font-size:5.52px;line-height:5.52px;color:#b8bcc0;font-weight:normal;letter-spacing:0.300px;white-space:pre;">Search</div>
<div style="top:334.40px;left:673.90px;font-size:6.40px;line-height:6.40px;color:#2c2c2c;font-weight:normal;letter-spacing:0.000px;white-space:pre;transform:scaleX(0.9078);transform-origin:0 0;-webkit-text-stroke:0.15px #2c2c2c;">Filter</div>
<svg style="position:absolute;left:691px;top:333px;" width="9" height="8" viewBox="0 0 9 8"><path d="M0.8 2.2 H8.2 M0.8 5.8 H8.2" stroke="#1f5ea8" stroke-width="0.9"/><circle cx="2.6" cy="2.2" r="1.3" fill="#f3f7fc" stroke="#1f5ea8" stroke-width="0.9"/><circle cx="6.4" cy="5.8" r="1.3" fill="#f3f7fc" stroke="#1f5ea8" stroke-width="0.9"/></svg>
<div style="left:556.8px;top:352.4px;width:153.1px;height:18px;background:#fff;border:1px solid #dfe3e8;border-radius:3px;box-sizing:border-box;"></div>
<div style="top:358.72px;left:561.20px;font-size:6.10px;line-height:6.10px;color:#b8bcc0;font-weight:normal;letter-spacing:0.000px;white-space:pre;transform:scaleX(0.9773);transform-origin:0 0;">Recent</div>
<svg style="position:absolute;left:698px;top:359px;" width="6" height="5" viewBox="0 0 6 5"><path d="M0.2 0.3 H5.8 L3 4.2 Z" fill="#888"/></svg>
<div style="left:556.6px;top:377.9px;width:152.4px;height:49.900000000000034px;background:#ffffff;border-radius:4px;"></div>
<div style="top:385.02px;left:563.30px;font-size:6.98px;line-height:6.98px;color:#222;font-weight:bold;letter-spacing:0.000px;white-space:pre;transform:scaleX(0.8276);transform-origin:0 0;">Silver Fox</div>
<svg style="position:absolute;left:692px;top:387.4px;" width="11" height="3" viewBox="0 0 11 3"><circle cx="1.5" cy="1.5" r="0.95" fill="#444"/><circle cx="5.2" cy="1.5" r="0.95" fill="#444"/><circle cx="8.9" cy="1.5" r="0.95" fill="#444"/></svg>
<div style="top:397.40px;left:563.30px;font-size:5.23px;line-height:5.23px;color:#7b4fd0;font-weight:normal;letter-spacing:0.000px;white-space:pre;transform:scaleX(0.9005);transform-origin:0 0;">Oct 12th 2022</div>
<div style="top:411.81px;left:563.30px;font-size:5.23px;line-height:5.23px;color:#333;font-weight:normal;letter-spacing:0.000px;white-space:pre;transform:scaleX(0.9371);transform-origin:0 0;">Transport</div>
<div style="top:413.60px;left:677.00px;font-size:6.83px;line-height:6.83px;color:#161616;font-weight:bold;letter-spacing:0.000px;white-space:pre;transform:scaleX(0.9601);transform-origin:0 0;">N10,000</div>
<div style="left:556.6px;top:430.8px;width:152.4px;height:48.099999999999966px;background:#e6ebf1;border-radius:4px;"></div>
<div style="top:437.71px;left:563.30px;font-size:6.98px;line-height:6.98px;color:#222;font-weight:bold;letter-spacing:0.000px;white-space:pre;transform:scaleX(0.8276);transform-origin:0 0;">Silver Fox</div>
<svg style="position:absolute;left:692px;top:440.09999999999997px;" width="11" height="3" viewBox="0 0 11 3"><circle cx="1.5" cy="1.5" r="0.95" fill="#444"/><circle cx="5.2" cy="1.5" r="0.95" fill="#444"/><circle cx="8.9" cy="1.5" r="0.95" fill="#444"/></svg>
<div style="top:450.11px;left:563.30px;font-size:5.23px;line-height:5.23px;color:#7b4fd0;font-weight:normal;letter-spacing:0.000px;white-space:pre;transform:scaleX(0.9005);transform-origin:0 0;">Oct 12th 2022</div>
<div style="top:464.51px;left:563.30px;font-size:5.23px;line-height:5.23px;color:#333;font-weight:normal;letter-spacing:0.000px;white-space:pre;transform:scaleX(0.9371);transform-origin:0 0;">Transport</div>
<div style="top:466.30px;left:677.00px;font-size:6.83px;line-height:6.83px;color:#161616;font-weight:bold;letter-spacing:0.000px;white-space:pre;transform:scaleX(0.9601);transform-origin:0 0;">N10,000</div>
<div style="left:688.4px;top:455.4px;width:21.2px;height:21.2px;border-radius:50%;background:#0c4f9c;box-shadow:0 1px 2px rgba(0,0,0,0.2);"></div>
<svg style="position:absolute;left:694px;top:461px;" width="10" height="10" viewBox="0 0 10 10"><path d="M5 1.8 V8.2 M1.8 5 H8.2" stroke="#fff" stroke-width="1.1"/></svg>
<div style="left:547px;top:481px;width:171px;height:48px;background:linear-gradient(180deg,rgba(255,255,255,0) 0px,#fff 3px);border-radius:0 0 9px 9px;"></div>
<div style="top:490.32px;left:563.30px;font-size:6.98px;line-height:6.98px;color:#222;font-weight:bold;letter-spacing:0.000px;white-space:pre;transform:scaleX(0.8276);transform-origin:0 0;">Silver Fox</div>
<svg style="position:absolute;left:692px;top:492.7px;" width="11" height="3" viewBox="0 0 11 3"><circle cx="1.5" cy="1.5" r="0.95" fill="#444"/><circle cx="5.2" cy="1.5" r="0.95" fill="#444"/><circle cx="8.9" cy="1.5" r="0.95" fill="#444"/></svg>
<svg style="position:absolute;left:567.5px;top:507.5px;" width="9" height="8" viewBox="0 0 9 8"><path d="M1 7.5 V3.8 L4.5 1 L8 3.8 V7.5 Z M3.4 7.5 V5.5 H5.6 V7.5" stroke="#606060" stroke-width="0.8" fill="none"/></svg>
<div style="top:517.01px;left:562.60px;font-size:6.54px;line-height:6.54px;color:#606060;font-weight:normal;letter-spacing:0.000px;white-space:pre;transform:scaleX(0.9570);transform-origin:0 0;">Home</div>
<svg style="position:absolute;left:599px;top:507px;" width="8" height="9" viewBox="0 0 8 9"><rect x="1.5" y="0.8" width="5" height="7.4" rx="0.6" stroke="#606060" stroke-width="0.8" fill="none"/><path d="M3 3 H5 M3 4.5 H5 M3 6 H4.5" stroke="#606060" stroke-width="0.6"/></svg>
<div style="top:517.01px;left:590.80px;font-size:6.54px;line-height:6.54px;color:#606060;font-weight:normal;letter-spacing:0.000px;white-space:pre;transform:scaleX(0.9462);transform-origin:0 0;">Invoices</div>
<svg style="position:absolute;left:635px;top:507.8px;" width="9" height="7" viewBox="0 0 9 7"><rect x="0.2" y="0.2" width="8" height="6.4" rx="0.8" fill="#1f5ea8"/><rect x="4.8" y="2.8" width="3.4" height="2.2" rx="0.4" fill="#fff"/><rect x="1.3" y="1.2" width="1.8" height="1.1" fill="#fff"/></svg>
<div style="top:517.01px;left:625.70px;font-size:6.54px;line-height:6.54px;color:#1f5ea8;font-weight:normal;letter-spacing:0.000px;white-space:pre;transform:scaleX(0.9051);transform-origin:0 0;">Expenses</div>
<svg style="position:absolute;left:672.5px;top:507px;" width="10" height="8" viewBox="0 0 10 8"><circle cx="5" cy="2.8" r="2.2" stroke="#606060" stroke-width="0.8" fill="none"/><rect x="1" y="2.9" width="8" height="3" rx="1.5" stroke="#606060" stroke-width="0.8" fill="none"/><rect x="3.4" y="4.3" width="3.2" height="3.2" rx="0.6" stroke="#606060" stroke-width="0.8" fill="none"/></svg>
<div style="top:516.81px;left:663.30px;font-size:6.54px;line-height:6.54px;color:#606060;font-weight:normal;letter-spacing:0.000px;white-space:pre;transform:scaleX(0.9516);transform-origin:0 0;">Inventory</div>
<svg style="position:absolute;left:704.5px;top:508.5px;" width="8" height="6" viewBox="0 0 8 6"><path d="M0.3 0.8 H7.7 M0.3 2.9 H7.7 M0.3 5 H7.7" stroke="#606060" stroke-width="1.1"/></svg>
<div style="top:517.62px;left:701.00px;font-size:6.54px;line-height:6.54px;color:#606060;font-weight:normal;letter-spacing:0.000px;white-space:pre;transform:scaleX(0.9396);transform-origin:0 0;">More</div>
</body></html>
